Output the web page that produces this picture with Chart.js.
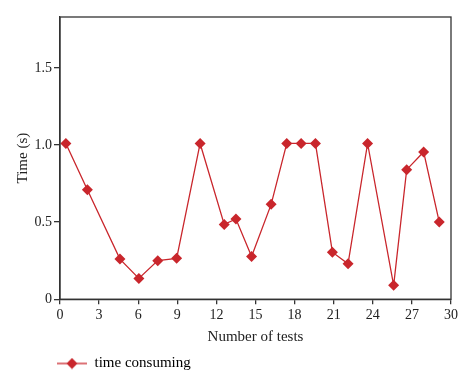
<!DOCTYPE html>
<html>
<head>
<meta charset="utf-8">
<script src="https://cdn.jsdelivr.net/npm/chart.js@4/dist/chart.umd.min.js"></script>
<style>
  html, body { margin: 0; padding: 0; background: #fff; }
  #wrap { width: 474px; height: 387px; }
</style>
</head>
<body>
<div id="wrap"><canvas id="chart"></canvas></div>
<script>
const testNumbers = [0.45, 2.1, 4.6, 6.05, 7.5, 8.95, 10.75, 12.6, 13.5, 14.7, 16.2,
    17.4, 18.5, 19.6, 20.9, 22.1, 23.6, 25.6, 26.6, 27.9, 29.1]
const timeValues = [1.01, 0.71, 0.26, 0.135, 0.25, 0.265, 1.01, 0.485, 0.52, 0.277, 0.615,
    1.01, 1.01, 1.01, 0.305, 0.23, 1.01, 0.09, 0.84, 0.955, 0.50]
const yTicks = [0, 0.5, 1.0, 1.5]
const seriesName = 'time consuming'

const red = '#c9262c'
const ink = '#222'
const font = "'Liberation Serif', 'DejaVu Serif', serif"

// legend marker: short line with a diamond on it
function legendMarker() {
    const c = document.createElement('canvas')
    c.width = 30
    c.height = 12
    const ctx = c.getContext('2d')
    ctx.strokeStyle = red
    ctx.lineWidth = 1.3
    ctx.beginPath()
    ctx.moveTo(0, 6)
    ctx.lineTo(30, 6)
    ctx.stroke()
    ctx.fillStyle = red
    ctx.beginPath()
    ctx.moveTo(15, 0.5)
    ctx.lineTo(20.5, 6)
    ctx.lineTo(15, 11.5)
    ctx.lineTo(9.5, 6)
    ctx.closePath()
    ctx.fill()
    return c
}

const frame = {
    id: 'frame',
    afterLayout(chart) {
        // legend sits under the plot, indented like the original
        chart.legend.left = 47
    },
    afterDraw(chart) {
        const { ctx, chartArea: a } = chart
        ctx.save()
        ctx.strokeStyle = '#333'
        ctx.lineWidth = 1.3
        ctx.strokeRect(a.left, a.top, a.right - a.left, a.bottom - a.top)
        ctx.restore()
    }
}

const data = {
    datasets: [{
        label: seriesName,
        data: testNumbers.map((x, i) => ({ x: x, y: timeValues[i] })),
        borderColor: red,
        backgroundColor: red,
        borderWidth: 1.3,
        pointStyle: 'rectRot',
        pointRadius: 5.5,
        pointBorderWidth: 0,
        pointBackgroundColor: red,
        tension: 0
    }]
}

const config = {
    type: 'line',
    data: data,
    options: {
        responsive: true,
        maintainAspectRatio: false,
        animation: false,
        layout: { padding: { top: 17, right: 23, left: 0, bottom: 6 } },
        scales: {
            x: {
                type: 'linear',
                min: 0,
                max: 30,
                ticks: {
                    stepSize: 3,
                    color: ink,
                    font: { family: font, size: 14 },
                    padding: 3,
                    maxRotation: 0
                },
                grid: { drawOnChartArea: false, drawTicks: true, tickLength: 5, color: '#333', lineWidth: 1.3 },
                border: { display: true, color: '#333', width: 1.3 },
                title: {
                    display: true,
                    text: 'Number of tests',
                    color: ink,
                    font: { family: font, size: 15 },
                    padding: { top: 1, bottom: 0 }
                }
            },
            y: {
                min: 0,
                max: 1.83,
                afterBuildTicks: scale => { scale.ticks = yTicks.map(v => ({ value: v })) },
                afterFit: scale => { scale.width = 60 },
                ticks: {
                    color: ink,
                    font: { family: font, size: 14 },
                    padding: 2,
                    callback: v => v === 0 ? '0' : v.toFixed(1)
                },
                grid: { drawOnChartArea: false, drawTicks: true, tickLength: 6, color: '#333', lineWidth: 1.3 },
                border: { display: true, color: '#333', width: 1.3 },
                title: {
                    display: true,
                    text: 'Time (s)',
                    color: ink,
                    font: { family: font, size: 15 },
                    padding: { top: 14, bottom: 4 }
                }
            }
        },
        plugins: {
            tooltip: { enabled: false },
            legend: {
                position: 'bottom',
                align: 'start',
                labels: {
                    color: ink,
                    font: { family: font, size: 15 },
                    usePointStyle: true,
                    pointStyleWidth: 30,
                    padding: 10,
                    generateLabels: () => [{
                        text: seriesName,
                        pointStyle: legendMarker(),
                        fillStyle: red,
                        strokeStyle: red,
                        lineWidth: 0,
                        datasetIndex: 0
                    }]
                }
            }
        }
    },
    plugins: [frame]
}

new Chart(document.getElementById('chart'), config)
</script>
</body>
</html>
